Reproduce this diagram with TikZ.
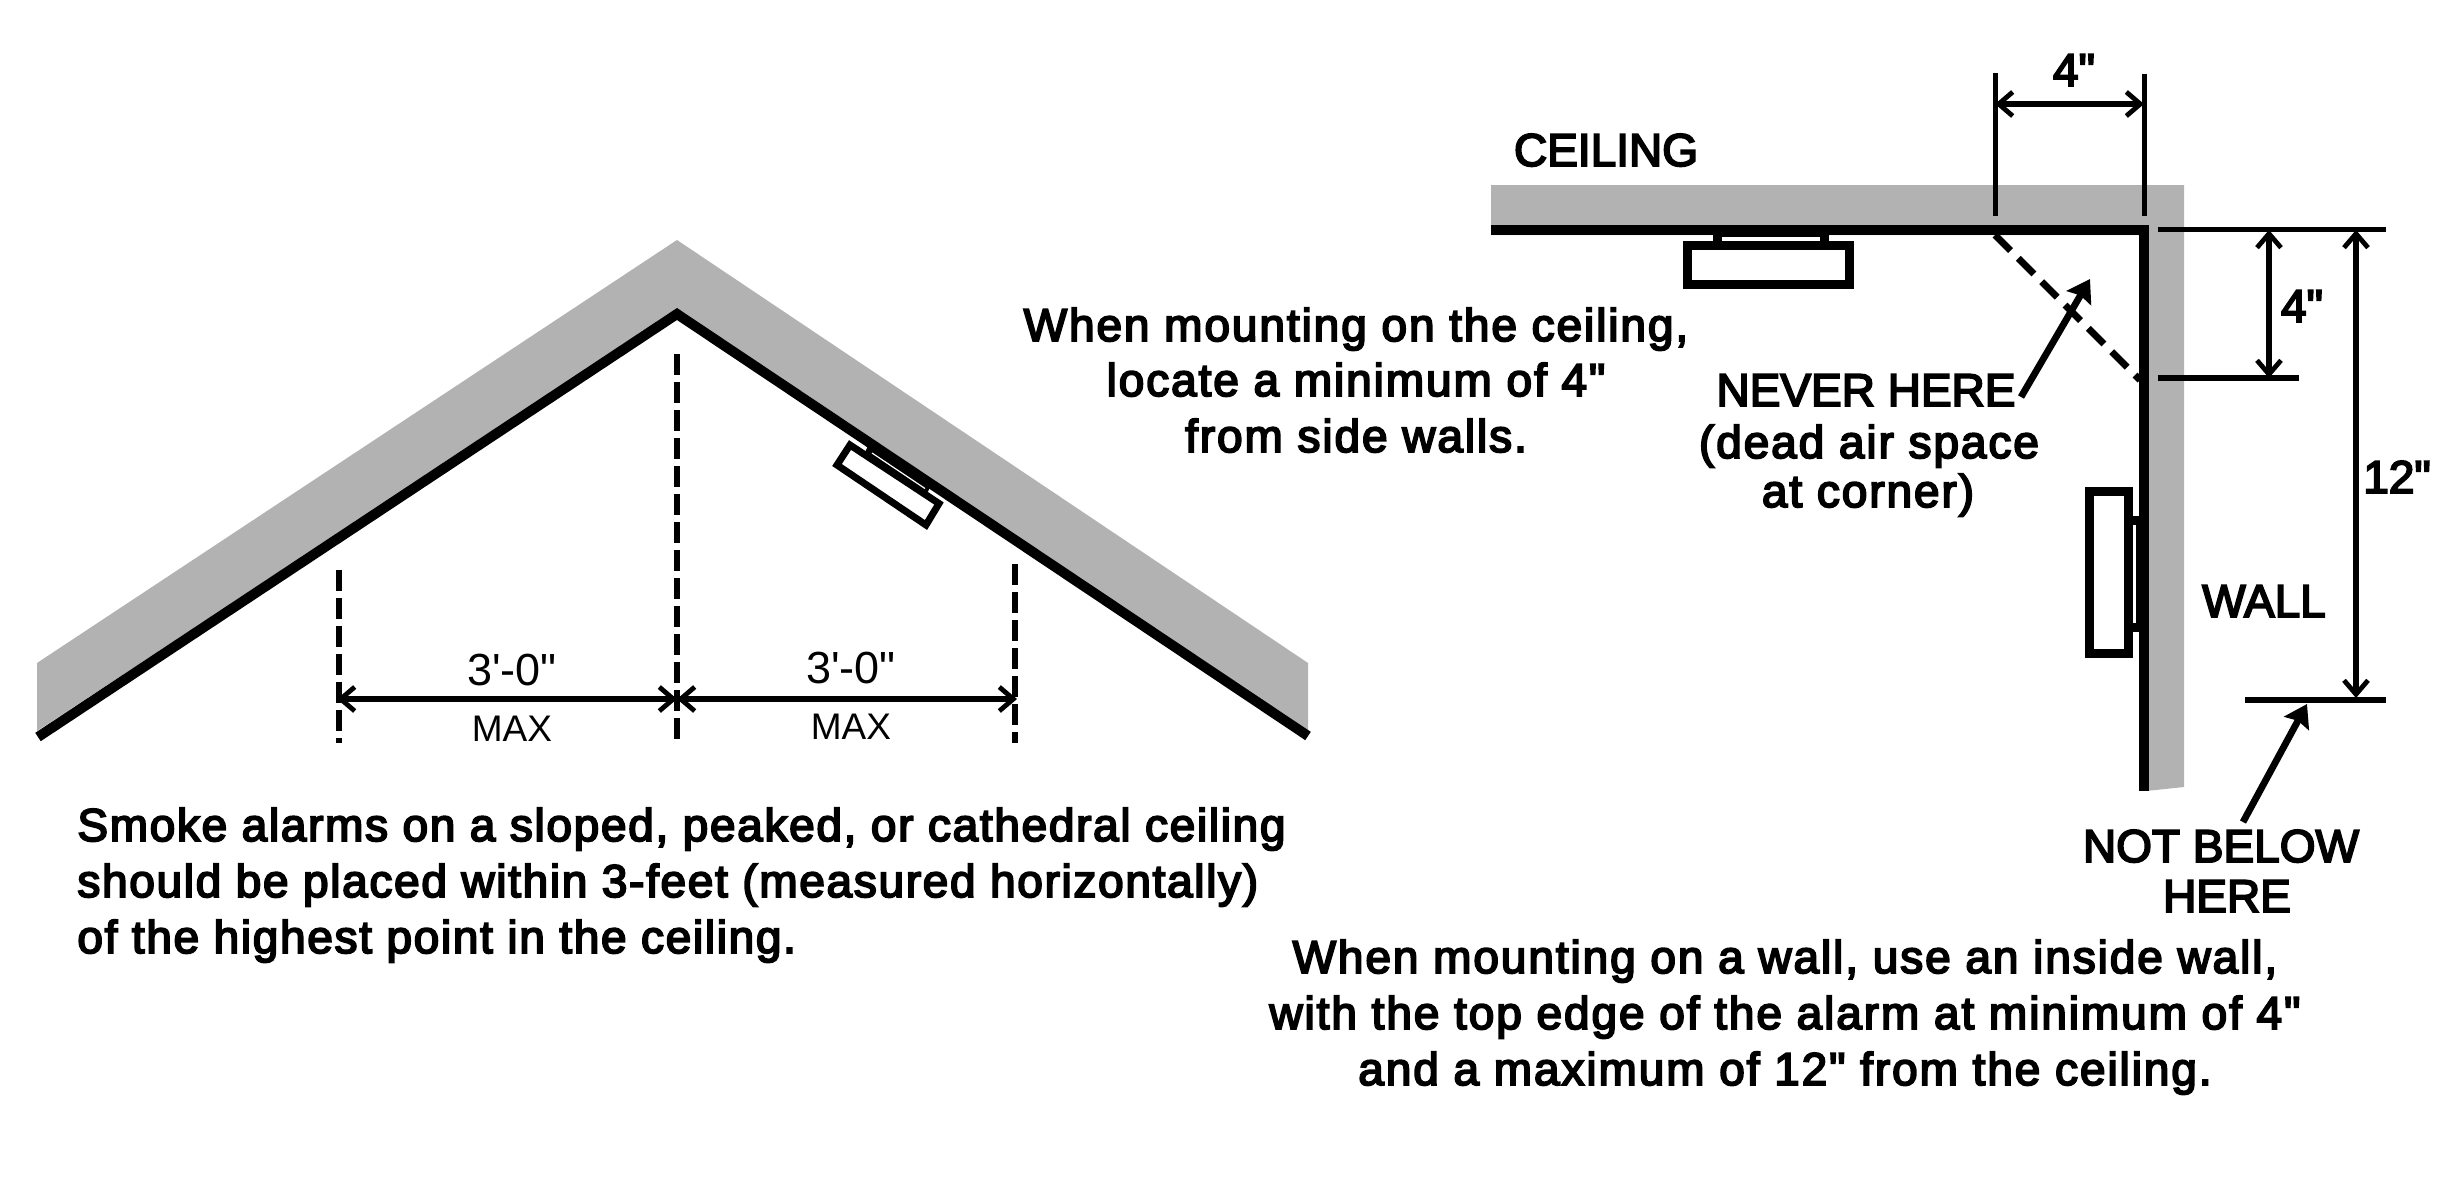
\documentclass[tikz,border=0pt]{standalone}
\usepackage{fontspec}
\usetikzlibrary{arrows.meta}
\setmainfont{Liberation Sans}
\newfontfamily\bolder[FakeBold=4]{Liberation Sans}
\newfontfamily\bolderw[FakeBold=4,LetterSpace=3.65]{Liberation Sans}
\newfontfamily\bolderr[FakeBold=4,LetterSpace=4.15]{Liberation Sans}
\newfontfamily\thinf{Liberation Sans}
\definecolor{wallgray}{HTML}{B2B2B2}
\tikzset{
  x=0.5pt,y=-0.5pt,
  label/.style={inner sep=0pt,anchor=base,font=\bolder\fontsize{23}{27}\selectfont},
  body/.style={inner sep=0pt,anchor=base,font=\bolderr\fontsize{23}{27}\selectfont},
  bodyw/.style={inner sep=0pt,anchor=base west,font=\bolderw\fontsize{23}{27}\selectfont},
  thinlabel/.style={inner sep=0pt,anchor=base,font=\thinf\fontsize{22.5}{26}\selectfont},
  maxlabel/.style={inner sep=0pt,anchor=base,font=\thinf\fontsize{18.5}{22}\selectfont},
  ext/.style={line width=2.5pt},
  dimarrow/.style={line width=2.8pt,{Straight Barb[length=7pt,width=12pt,line width=2.4pt]}-{Straight Barb[length=7pt,width=12pt,line width=2.4pt]}},
  dashline/.style={line width=2.7pt,dash pattern=on 10.5pt off 3.5pt},
  pointer/.style={line width=3.4pt,-{Stealth[length=11pt,width=14pt,inset=1.5pt]}},
  alarm/.style={draw=black,fill=white,line width=4.4pt,miter limit=10},
}
\begin{document}
\begin{tikzpicture}
\useasboundingbox (0,0) rectangle (2438,1179);
\fill[white] (0,0) rectangle (2438,1179);

% ---------- sloped ceiling ----------
\fill[wallgray] (37,663) -- (677,240) -- (1308,663) -- (1308,731) -- (677,311) -- (37,731) -- cycle;
\coordinate (sl) at (38,737);
\coordinate (peak) at (677,314);
\coordinate (sr) at (1308,736);
% sloped alarm
\draw[line width=3.5pt,fill=white,miter limit=10] (850,445) -- (837,465) -- (926,525) -- (939,503.5) -- cycle;
\draw[line width=5pt,miter limit=10] (sl) -- (peak) -- (sr);
\fill[black] (868,446) -- (930,487) -- (927,494) -- (865,452) -- cycle;
\draw[white,line width=0.6pt] (872,453) -- (925,488.5);
% dashes
\coordinate (ctop) at (677,354);
\coordinate (cbot) at (677,743);
\coordinate (ltop) at (339,570);
\coordinate (lbot) at (339,743);
\coordinate (rtop) at (1015,564);
\coordinate (rbot) at (1015,743);
\draw[dashline] (ctop) -- (cbot);
\draw[dashline] (ltop) -- (lbot);
\draw[dashline] (rtop) -- (rbot);
\coordinate (dl) at (337,699);
\coordinate (dc) at (677,699);
\coordinate (dr) at (1017,699);
\draw[dimarrow] (dl) -- (dc);
\draw[dimarrow] (dc) -- (dr);
\node[thinlabel] (ft1) at (512,685) {3'-0"};
\node[thinlabel] (ft2) at (851,683) {3'-0"};
\node[maxlabel] (max1) at (512,741) {MAX};
\node[maxlabel] (max2) at (851,739) {MAX};
\node[bodyw] (t1) at (77,841) {Smoke alarms on a sloped, peaked, or cathedral ceiling};
\node[bodyw] (t2) at (77,897) {should be placed within 3-feet (measured horizontally)};
\node[bodyw] (t3) at (77,953) {of the highest point in the ceiling.};

% ---------- ceiling and wall ----------
\fill[wallgray] (1491,185) -- (2184,185) -- (2184,787) -- (2146,791) -- (2146,235) -- (1491,235) -- cycle;
\coordinate (cw) at (1491,230);
\coordinate (corner) at (2144,230);
\coordinate (wb) at (2144,791);
\draw[line width=5pt,miter limit=10] (cw) -- (corner) -- (wb);
% ceiling alarm
\fill[black] (1713,235) rectangle (1829,246);
\fill[white] (1722,237) rectangle (1820,241);
\draw[alarm] (1687.5,245.5) rectangle (1849.5,284.5);
% wall alarm
\fill[black] (2128,516) rectangle (2140,632);
\fill[white] (2133,525) rectangle (2136,623);
\draw[alarm] (2089.3,491.2) rectangle (2128.7,653.8);
% dead air space
\coordinate (d1) at (1995,235);
\coordinate (d2) at (2140,380);
\draw[line width=3.4pt,dash pattern=on 11pt off 5.5pt] (d1) -- (d2);
% 4" top
\coordinate (e1a) at (1995,73);
\coordinate (e1b) at (1995,216);
\coordinate (e2a) at (2144,74);
\coordinate (e2b) at (2144,216);
\draw[ext] (e1a) -- (e1b);
\draw[ext] (e2a) -- (e2b);
\coordinate (a1) at (1995,104);
\coordinate (a2) at (2144,104);
\draw[dimarrow] (a1) -- (a2);
% horizontals
\coordinate (h1a) at (2157.5,229.5);
\coordinate (h1b) at (2386,229.5);
\coordinate (h2a) at (2157.5,378);
\coordinate (h2b) at (2299,378);
\coordinate (h3a) at (2245,700);
\coordinate (h3b) at (2386,700);
\draw[line width=2.6pt] (h1a) -- (h1b);
\draw[line width=3pt] (h2a) -- (h2b);
\draw[line width=3pt] (h3a) -- (h3b);
\coordinate (v1a) at (2269,230);
\coordinate (v1b) at (2269,378);
\coordinate (v2a) at (2356,230);
\coordinate (v2b) at (2356,698);
\draw[dimarrow] (v1a) -- (v1b);
\draw[dimarrow] (v2a) -- (v2b);
% pointers
\coordinate (p1a) at (2021,397);
\coordinate (p1b) at (2090,279);
\coordinate (p2a) at (2243,822);
\coordinate (p2b) at (2307,704);
\draw[pointer] (p1a) -- (p1b);
\draw[pointer] (p2a) -- (p2b);
% labels
\node[label] (dim4a) at (2074,86) {4"};
\node[label] (dim4b) at (2302,322) {4"};
\node[label] (dim12) at (2397,493) {12"};
\node[label] (ceil) at (1606,166) {CEILING};
\node[label] (wl) at (2264,617) {WALL};
\node[label] (never) at (1866,406) {NEVER HERE};
\node[body] (dead) at (1869,458) {(dead air space};
\node[body] (atc) at (1868,507) {at corner)};
\node[label] (nb1) at (2221,862) {NOT BELOW};
\node[label] (nb2) at (2227,912) {HERE};
\node[body] (c1) at (1356,341) {When mounting on the ceiling,};
\node[body] (c2) at (1356,396) {locate a minimum of 4"};
\node[body] (c3) at (1356,452) {from side walls.};
\node[body] (w1) at (1785,973) {When mounting on a wall, use an inside wall,};
\node[body] (w2) at (1785,1029) {with the top edge of the alarm at minimum of 4"};
\node[body] (w3) at (1785,1085) {and a maximum of 12" from the ceiling.};
\end{tikzpicture}
\end{document}
